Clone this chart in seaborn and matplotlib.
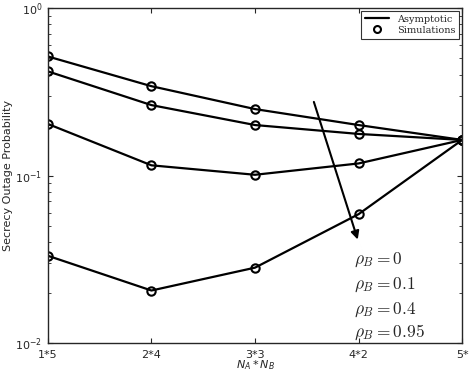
import pandas as pd
import matplotlib
matplotlib.use("Agg")
import matplotlib.pyplot as plt
from matplotlib.lines import Line2D
import seaborn as sns

configs = ["1*5", "2*4", "3*3", "4*2", "5*"]
rho_labels = ["0", "0.1", "0.4", "0.95"]
sop_rho0 = [0.513, 0.341, 0.249, 0.200, 0.163]
sop_rho01 = [0.418, 0.263, 0.200, 0.177, 0.163]
sop_rho04 = [0.203, 0.115, 0.101, 0.118, 0.163]
sop_rho095 = [0.0332, 0.0206, 0.0282, 0.0588, 0.163]

rows = []
for rho, vals in zip(rho_labels, [sop_rho0, sop_rho01, sop_rho04, sop_rho095]):
    for i, (c, v) in enumerate(zip(configs, vals)):
        rows.append({"idx": i, "config": c, "rho": rho, "sop": v})
df = pd.DataFrame(rows)

sns.set_style("ticks")
fig = plt.figure(figsize=(4.74, 3.75), dpi=100)
ax = fig.add_axes([0.101, 0.085, 0.874, 0.894])

sns.lineplot(data=df, x="idx", y="sop", hue="rho", palette=["black"] * 4,
             marker="o", markersize=6, markerfacecolor="none", markeredgecolor="black",
             markeredgewidth=1.5, linewidth=1.6, legend=False, ax=ax)

ax.set_yscale("log")
ax.set_ylim(1e-2, 1)
ax.set_xlim(0, len(configs) - 1)
ax.set_xticks(range(len(configs)))
ax.set_xticklabels(configs, fontsize=8)
ax.tick_params(axis="both", which="both", direction="in", top=True, right=True,
               labelsize=8)
ax.tick_params(axis="x", pad=5)
ax.tick_params(axis="y", pad=4)
ax.set_xlabel("$N_A * N_B$", fontsize=8, labelpad=-1)
ax.set_ylabel("Secrecy Outage Probability", fontsize=8, labelpad=2)
for s in ax.spines.values():
    s.set_linewidth(1.0)

ax.annotate("", xy=(3.0, 0.040), xytext=(2.56, 0.285),
            arrowprops=dict(arrowstyle="-|>", color="black", lw=1.5, mutation_scale=12))
text_y = [0.0314, 0.0223, 0.0159, 0.0116]
for rho, ty in zip(rho_labels, text_y):
    ax.text(2.96, ty, r"$\rho_B = %s$" % rho, fontsize=12.5,
            ha="left", va="center", math_fontfamily="cm")

handles = [Line2D([], [], color="black", lw=1.6),
           Line2D([], [], color="black", marker="o", ls="none", markerfacecolor="none",
                  markeredgewidth=1.5, markersize=5)]
leg = ax.legend(handles, ["Asymptotic", "Simulations"], loc="upper right",
                fontsize=7, frameon=True, fancybox=False, edgecolor="black",
                borderaxespad=0.3, handlelength=2.5, labelspacing=0.2)
leg.get_frame().set_linewidth(0.8)
for t in leg.get_texts():
    t.set_family("serif")

fig.savefig("out.png", dpi=100)
